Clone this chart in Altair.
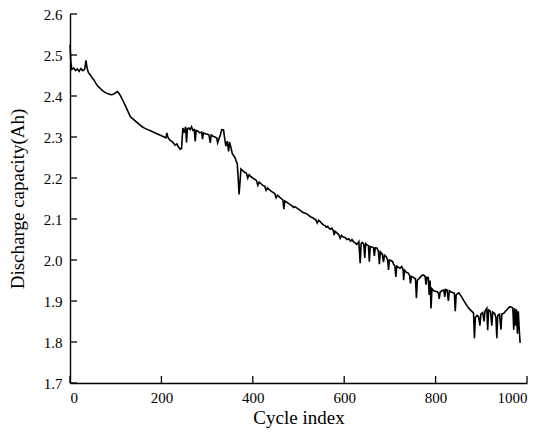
import altair as alt
import pandas as pd

cycles = [
    0, 2, 4, 8, 12, 16, 20, 24, 28, 32, 35, 37, 40,
    44, 48, 52, 56, 60, 65, 70, 75, 80, 85, 90, 95, 100, 104, 108,
    112, 117, 122, 127, 132, 137, 142, 147, 152, 158, 164, 170, 176, 182, 188, 194, 200, 206, 210, 212, 214, 218, 222, 226, 230, 234, 237, 241, 244,
    247, 250, 253, 255, 257, 260, 263, 266, 269, 272, 274, 276, 280, 284, 288, 290, 292, 296, 300, 304, 307, 309, 313, 317, 321, 323, 326, 329, 332, 336, 338, 341, 344, 347, 349, 352, 355, 358, 361, 364, 366, 368, 370, 372, 374,
    378, 382, 386, 389, 392, 396, 400, 404, 408, 411, 414, 418, 422, 426, 429, 432, 436, 440, 444, 448, 451, 454, 458, 462, 466, 468, 470, 474, 478, 482, 486, 489, 492, 496,
    500, 505, 510, 515, 519, 523, 527, 531, 535, 538, 541, 544, 548, 552, 555, 558, 561, 564, 567, 570, 573, 576, 578, 580, 584, 588, 591, 594, 598, 602, 606, 610, 614, 617,
    620, 624, 627, 629, 632, 635, 637, 640, 643, 645, 647, 650, 653, 655, 657, 661, 664, 666, 668, 672, 675, 677, 679, 683, 686, 688, 692, 695, 697, 699, 703, 706, 708, 711, 713, 715, 719,
    722, 726, 729, 730, 732, 736, 740, 743, 745, 747, 751, 754, 756, 758, 760, 764, 768, 771, 774, 777, 779, 781, 784, 786, 788, 790, 792, 796, 800,
    803, 806, 808, 810, 814, 818, 820, 822, 825, 828, 830, 834, 838, 841, 843, 845, 848, 851, 854, 857, 861, 865, 869, 873, 877, 880,
    883, 885, 887, 891, 894, 897, 899, 903, 906, 908, 912, 914, 916, 920, 923, 925, 929, 932, 934, 936, 940, 943, 945, 949, 953, 957, 960, 963, 966, 969, 971, 973, 975, 977, 979, 981, 983, 985,
]

capacity = [
    2.525, 2.48, 2.465, 2.468, 2.462, 2.466, 2.46, 2.467, 2.462, 2.465, 2.487, 2.47, 2.458,
    2.452, 2.445, 2.44, 2.432, 2.425, 2.42, 2.414, 2.41, 2.407, 2.405, 2.403, 2.404, 2.408, 2.411, 2.405,
    2.397, 2.386, 2.374, 2.362, 2.35, 2.345, 2.34, 2.335, 2.33, 2.325, 2.321, 2.318, 2.315, 2.312, 2.309, 2.306, 2.303, 2.3, 2.298, 2.31, 2.3, 2.293, 2.29, 2.286, 2.28, 2.283, 2.276, 2.27, 2.272,
    2.322, 2.31, 2.325, 2.287, 2.32, 2.322, 2.318, 2.325, 2.316, 2.318, 2.289, 2.316, 2.314, 2.31, 2.312, 2.295, 2.31, 2.308, 2.307, 2.305, 2.286, 2.305, 2.302, 2.3, 2.298, 2.286, 2.296, 2.305, 2.318, 2.317, 2.3, 2.278, 2.29, 2.265, 2.288, 2.275, 2.26, 2.255, 2.25, 2.24, 2.235, 2.2, 2.16, 2.19, 2.222,
    2.218, 2.214, 2.212, 2.2, 2.208, 2.203, 2.2, 2.197, 2.194, 2.182, 2.19, 2.186, 2.182, 2.18, 2.17, 2.176, 2.172, 2.168, 2.165, 2.162, 2.152, 2.158, 2.154, 2.15, 2.146, 2.124, 2.144, 2.141, 2.138, 2.135, 2.132, 2.128, 2.13, 2.127,
    2.124, 2.12, 2.116, 2.114, 2.112, 2.108, 2.105, 2.103, 2.1, 2.098, 2.09, 2.097, 2.093, 2.088, 2.085, 2.084, 2.08, 2.082, 2.077, 2.075, 2.078, 2.072, 2.061, 2.07, 2.066, 2.062, 2.053, 2.06, 2.056, 2.055, 2.05, 2.052, 2.046, 2.05,
    2.045, 2.042, 2.038, 2.04, 2.045, 1.992, 2.04, 2.043, 2.038, 2.005, 2.04, 2.037, 2.035, 1.996, 2.033, 2.032, 2.03, 2.01, 2.03, 2.029, 2.02, 1.99, 2.02, 2.015, 1.995, 2.012, 2.008, 2.0, 1.976, 2.0, 1.998, 1.996, 1.99, 1.985, 1.959, 1.985, 1.982,
    1.98, 1.984, 1.975, 1.951, 1.975, 1.97, 1.968, 1.963, 1.943, 1.96, 1.958, 1.955, 1.955, 1.907, 1.95, 1.955, 1.96, 1.963, 1.963, 1.96, 1.94, 1.958, 1.957, 1.915, 1.95, 1.882, 1.93, 1.925, 1.923,
    1.923, 1.92, 1.905, 1.922, 1.925, 1.927, 1.91, 1.928, 1.927, 1.9, 1.925, 1.922, 1.92, 1.919, 1.875, 1.915, 1.918, 1.92, 1.915, 1.91, 1.902, 1.895, 1.888, 1.882, 1.877, 1.874,
    1.87, 1.809, 1.86, 1.865, 1.862, 1.84, 1.868, 1.872, 1.85, 1.875, 1.882, 1.829, 1.878, 1.875, 1.84, 1.873, 1.87, 1.86, 1.809, 1.865, 1.868, 1.83, 1.868, 1.87, 1.875, 1.88, 1.884, 1.886, 1.885, 1.883, 1.83, 1.882, 1.84, 1.88, 1.82, 1.875, 1.83, 1.798,
]

x_ticks = [0, 200, 400, 600, 800, 1000]
y_ticks = [1.7, 1.8, 1.9, 2.0, 2.1, 2.2, 2.3, 2.4, 2.5, 2.6]

W, H = 457, 369
FONT = "Liberation Serif"

df = pd.DataFrame({"cycle": cycles, "capacity": capacity})
xs = alt.Scale(domain=[0, 1000], nice=False, zero=False)
ys = alt.Scale(domain=[1.7, 2.6], nice=False, zero=False)

x_axis = alt.Axis(values=x_ticks, tickSize=0, labelPadding=7, title="Cycle index",
                  titlePadding=3, format="d")
y_axis = alt.Axis(values=y_ticks, tickSize=0, labelPadding=8, format=".1f",
                  title="Discharge capacity(Ah)", titlePadding=16)

line = alt.Chart(df).mark_line(color="black", strokeWidth=1.6).encode(
    x=alt.X("cycle:Q", scale=xs, axis=x_axis),
    y=alt.Y("capacity:Q", scale=ys, axis=y_axis),
)

xt = alt.Chart(pd.DataFrame({"cycle": x_ticks})).mark_rule(color="black", strokeWidth=1.3).encode(
    x=alt.X("cycle:Q", scale=xs, axis=x_axis),
    y=alt.value(H), y2=alt.value(H - 7),
)
yt = alt.Chart(pd.DataFrame({"capacity": y_ticks})).mark_rule(color="black", strokeWidth=1.3).encode(
    y=alt.Y("capacity:Q", scale=ys, axis=y_axis),
    x=alt.value(0), x2=alt.value(7),
)

chart = alt.layer(line, xt, yt).properties(
    width=W, height=H,
    autosize=alt.AutoSizeParams(type="none"),
    padding={"left": 62, "top": 6, "right": 15, "bottom": 52},
).configure_view(stroke=None).configure_axis(
    domainColor="black", domainWidth=1.4, grid=False,
    labelFont=FONT, labelFontSize=15, labelColor="black",
    titleFont=FONT, titleFontSize=19, titleFontWeight="normal", titleColor="black",
)

chart.save("out.html", embed_options={"renderer": "svg", "actions": False})
